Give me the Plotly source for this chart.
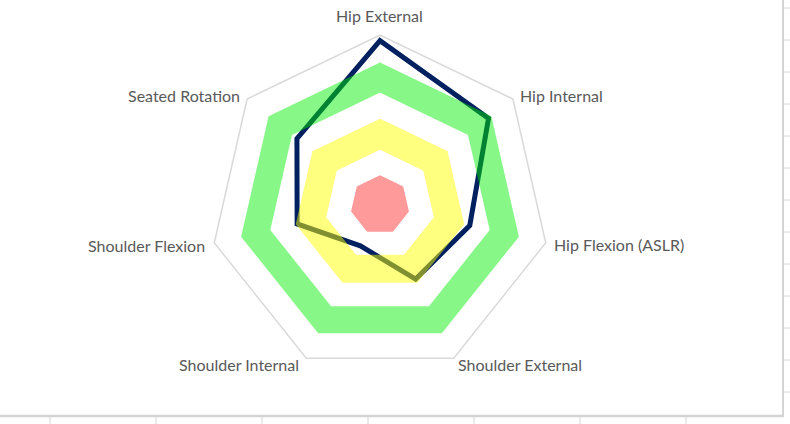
import plotly.graph_objects as go

W, H = 790, 424

# axes, clockwise from the top
categories = [
    "Hip External",
    "Hip Internal",
    "Hip Flexion (ASLR)",
    "Shoulder External",
    "Shoulder Internal",
    "Shoulder Flexion",
    "Seated Rotation",
]
score = [5.8, 4.9, 3.25, 2.9, 1.6, 3.0, 3.75]
green_band = [4.5, 4.5, 4.5, 4.5, 4.5, 4.5, 4.5]
yellow_band = [2.5, 2.5, 2.5, 2.5, 2.5, 2.5, 2.5]
red_band = [0.5, 0.5, 0.5, 0.5, 0.5, 0.5, 0.5]
r_max = 6


def loop(values):
    # go round once more so the first corner gets a proper join
    return list(values) + list(values[:2]), categories + categories[:2]


def px(x):
    return x / W


def py(y):
    return 1 - y / H


fig = go.Figure()

series = [
    (score, "#002060", 5),
    (green_band, "rgba(0,240,0,0.47)", 27),
    (yellow_band, "rgba(255,255,0,0.5)", 28),
    (red_band, "rgba(255,40,40,0.47)", 28),
]
for values, color, width in series:
    r, theta = loop(values)
    fig.add_trace(
        go.Scatterpolar(
            r=r,
            theta=theta,
            mode="lines",
            line={"color": color, "width": width},
            hoverinfo="skip",
            showlegend=False,
        )
    )

# axis labels placed by hand, like the Excel layout
label_spots = [
    (379, 16, "center"),
    (518, 96, "left"),
    (552, 244, "left"),
    (456, 364, "left"),
    (301, 364, "right"),
    (207, 245, "right"),
    (242, 96, "right"),
]
annotations = []
for name, (x, y, align) in zip(categories, label_spots):
    annotations.append(
        {
            "text": name,
            "x": px(x),
            "y": py(y),
            "xref": "paper",
            "yref": "paper",
            "xanchor": align,
            "yanchor": "middle",
            "showarrow": False,
            "font": {"family": "Lato", "size": 16, "color": "#595959"},
        }
    )

# spreadsheet cell lines peeking out round the chart
grid = "#d4d4d4"
shapes = [
    {"type": "line", "xref": "paper", "yref": "paper", "x0": px(783), "x1": px(783),
     "y0": py(0), "y1": py(416), "line": {"color": grid, "width": 2}},
    {"type": "line", "xref": "paper", "yref": "paper", "x0": px(0), "x1": px(784),
     "y0": py(416), "y1": py(416), "line": {"color": grid, "width": 2.5}},
]
for y in range(8, 416, 32):
    shapes.append(
        {"type": "line", "xref": "paper", "yref": "paper", "x0": px(783), "x1": px(790),
         "y0": py(y), "y1": py(y), "line": {"color": grid, "width": 1}}
    )
for x in [50, 156, 262, 368, 474, 580, 686]:
    shapes.append(
        {"type": "line", "xref": "paper", "yref": "paper", "x0": px(x), "x1": px(x),
         "y0": py(417), "y1": py(424), "line": {"color": grid, "width": 1}}
    )

fig.update_layout(
    width=W,
    height=H,
    margin={"l": 0, "r": 0, "t": 0, "b": 0},
    paper_bgcolor="white",
    plot_bgcolor="white",
    annotations=annotations,
    shapes=shapes,
    polar={
        "domain": {"x": [px(210), px(550)], "y": [py(375), py(35)]},
        "bgcolor": "white",
        "gridshape": "linear",
        "radialaxis": {
            "range": [0, r_max],
            "showgrid": False,
            "showline": False,
            "showticklabels": False,
            "ticks": "",
        },
        "angularaxis": {
            "direction": "clockwise",
            "rotation": 90,
            "categoryarray": categories,
            "showgrid": False,
            "showline": True,
            "linecolor": "#d9d9d9",
            "linewidth": 1.5,
            "showticklabels": False,
            "ticks": "",
        },
    },
)

# drop the default page margin so the figure sits flush in the window
fig.write_html(
    "out.html",
    config={"displayModeBar": False},
    post_script="document.body.style.margin='0';document.body.style.overflow='hidden';",
)
